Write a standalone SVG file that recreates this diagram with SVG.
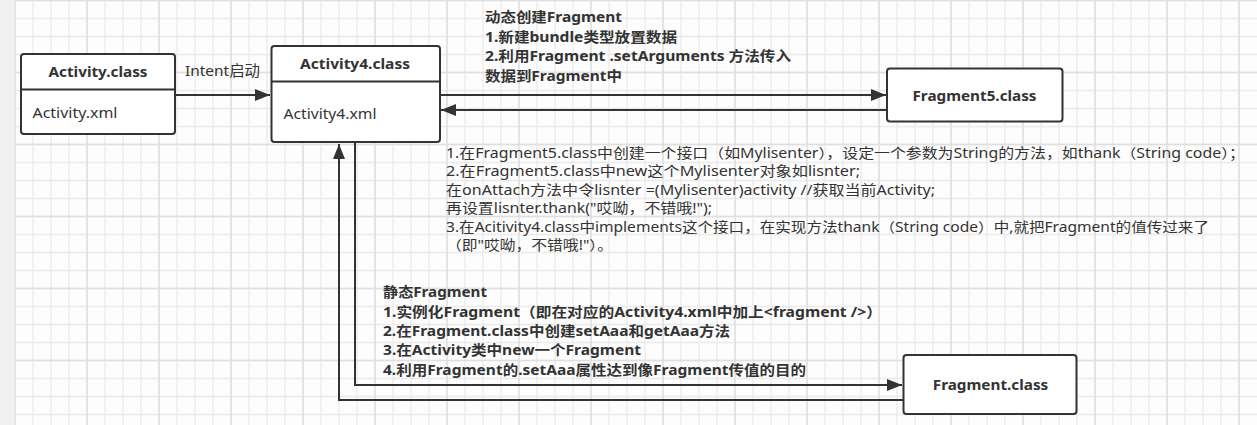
<svg xmlns="http://www.w3.org/2000/svg" width="1257" height="425" viewBox="0 0 1257 425">
<defs>
<marker id="arr" markerWidth="16" markerHeight="14" refX="15" refY="6.5" orient="auto" markerUnits="userSpaceOnUse">
<path d="M0,0.5 L15,6.5 L0,12.5 z" fill="#333"/>
</marker>
<style>
.box{fill:#fff;stroke:#333;stroke-width:2}
.div{stroke:#333;stroke-width:2}
.t{font-family:"Noto Sans","Noto Sans CJK SC",sans-serif;fill:#333}
.title{font-size:14.5px;font-weight:bold;text-anchor:middle}
.sub{font-size:14.5px}
.b{font-size:14px;font-weight:bold}
.r{font-size:13.5px}
.c{fill:none;stroke:#333;stroke-width:2;marker-end:url(#arr)}
.gmin{fill:none;stroke:#ebebeb;stroke-width:1.3}
.gmaj{fill:none;stroke:#dfdfdf;stroke-width:1.3}
</style>
</defs>
<rect x="0" y="0" width="1257" height="425" fill="#f0f0f0"/>
<rect x="15" y="0" width="1242" height="425" fill="#fdfdfd"/>
<g id="grid">
<path class="gmin" d="M15,0v425m18,-425v425m18,-425v425m18,-425v425m18,-425v425m18,-425v425m18,-425v425m18,-425v425m18,-425v425m18,-425v425m18,-425v425m18,-425v425m18,-425v425m18,-425v425m18,-425v425m18,-425v425m18,-425v425m18,-425v425m18,-425v425m18,-425v425m18,-425v425m18,-425v425m18,-425v425m18,-425v425m18,-425v425m18,-425v425m18,-425v425m18,-425v425m18,-425v425m18,-425v425m18,-425v425m18,-425v425m18,-425v425m18,-425v425m18,-425v425m18,-425v425m18,-425v425m18,-425v425m18,-425v425m18,-425v425m18,-425v425m18,-425v425m18,-425v425m18,-425v425m18,-425v425m18,-425v425m18,-425v425m18,-425v425m18,-425v425m18,-425v425m18,-425v425m18,-425v425m18,-425v425m18,-425v425m18,-425v425m18,-425v425m18,-425v425m18,-425v425m18,-425v425m18,-425v425m18,-425v425m18,-425v425m18,-425v425m18,-425v425m18,-425v425m18,-425v425m18,-425v425m18,-425v425m18,-425v425"/>
<path class="gmin" d="M15,0.5h1242m-1242,18h1242m-1242,18h1242m-1242,18h1242m-1242,18h1242m-1242,18h1242m-1242,18h1242m-1242,18h1242m-1242,18h1242m-1242,18h1242m-1242,18h1242m-1242,18h1242m-1242,18h1242m-1242,18h1242m-1242,18h1242m-1242,18h1242m-1242,18h1242m-1242,18h1242m-1242,18h1242m-1242,18h1242m-1242,18h1242m-1242,18h1242m-1242,18h1242m-1242,18h1242"/>
<path class="gmaj" d="M15,0v425m72,-425v425m72,-425v425m72,-425v425m72,-425v425m72,-425v425m72,-425v425m72,-425v425m72,-425v425m72,-425v425m72,-425v425m72,-425v425m72,-425v425m72,-425v425m72,-425v425m72,-425v425m72,-425v425m72,-425v425"/>
<path class="gmaj" d="M15,0.5h1242m-1242,72h1242m-1242,72h1242m-1242,72h1242m-1242,72h1242m-1242,72h1242"/>
</g>

<g id="connectors">
<path class="c" d="M175,95 H270"/>
<path class="c" d="M440,95 H886"/>
<path class="c" d="M887,110 H441"/>
<path class="c" d="M355,143 V385 H902"/>
<path class="c" d="M903,400 H339 V144"/>
</g>

<g id="activity">
<rect class="box" x="21" y="54" width="154" height="80" rx="3"/>
<line class="div" x1="21" y1="89.5" x2="175" y2="89.5"/>
<text class="t title" x="98" y="77" textLength="99" lengthAdjust="spacingAndGlyphs">Activity.class</text>
<text class="t sub" x="32.5" y="118" textLength="85" lengthAdjust="spacingAndGlyphs">Activity.xml</text>
</g>

<g id="activity4">
<rect class="box" x="271.5" y="46" width="168.5" height="96" rx="3"/>
<line class="div" x1="271.5" y1="81.5" x2="440" y2="81.5"/>
<text class="t title" x="355" y="69" textLength="110" lengthAdjust="spacingAndGlyphs">Activity4.class</text>
<text class="t sub" x="283.5" y="119" textLength="93" lengthAdjust="spacingAndGlyphs">Activity4.xml</text>
</g>

<g id="fragment5">
<rect class="box" x="887" y="68.5" width="175.5" height="53" rx="3"/>
<text class="t title" x="974.5" y="100.5" textLength="124" lengthAdjust="spacingAndGlyphs">Fragment5.class</text>
</g>

<g id="fragment">
<rect class="box" x="903.5" y="355" width="173" height="59" rx="3"/>
<text class="t title" x="990.5" y="390" textLength="115.5" lengthAdjust="spacingAndGlyphs">Fragment.class</text>
</g>

<g id="labels">
<text class="t sub" x="185" y="76" textLength="75" lengthAdjust="spacingAndGlyphs">Intent启动</text>

<text class="t b" x="485" y="22" textLength="137" lengthAdjust="spacingAndGlyphs">动态创建Fragment</text>
<text class="t b" x="485" y="41.5" textLength="192" lengthAdjust="spacingAndGlyphs">1.新建bundle类型放置数据</text>
<text class="t b" x="485" y="61" textLength="306" lengthAdjust="spacingAndGlyphs">2.利用Fragment .setArguments 方法传入</text>
<text class="t b" x="485" y="80.5" textLength="137" lengthAdjust="spacingAndGlyphs">数据到Fragment中</text>

<text class="t r" x="446" y="157.5" textLength="799" lengthAdjust="spacingAndGlyphs">1.在Fragment5.class中创建一个接口（如Mylisenter），设定一个参数为String的方法，如thank（String code）；</text>
<text class="t r" x="446" y="176" textLength="414" lengthAdjust="spacingAndGlyphs">2.在Fragment5.class中new这个Mylisenter对象如lisnter;</text>
<text class="t r" x="446" y="194.5" textLength="489" lengthAdjust="spacingAndGlyphs">在onAttach方法中令lisnter =(Mylisenter)activity //获取当前Activity;</text>
<text class="t r" x="446" y="213" textLength="266" lengthAdjust="spacingAndGlyphs">再设置lisnter.thank("哎呦，不错哦!");</text>
<text class="t r" x="446" y="231.5" textLength="763" lengthAdjust="spacingAndGlyphs">3.在Acitivity4.class中implements这个接口，在实现方法thank（String code）中,就把Fragment的值传过来了</text>
<text class="t r" x="446" y="250" textLength="167" lengthAdjust="spacingAndGlyphs">（即"哎呦，不错哦!"）。</text>

<text class="t b" x="383" y="297" textLength="104" lengthAdjust="spacingAndGlyphs">静态Fragment</text>
<text class="t b" x="383" y="316.5" textLength="499" lengthAdjust="spacingAndGlyphs">1.实例化Fragment（即在对应的Activity4.xml中加上&lt;fragment /&gt;）</text>
<text class="t b" x="383" y="336" textLength="347" lengthAdjust="spacingAndGlyphs">2.在Fragment.class中创建setAaa和getAaa方法</text>
<text class="t b" x="383" y="355" textLength="258" lengthAdjust="spacingAndGlyphs">3.在Activity类中new一个Fragment</text>
<text class="t b" x="383" y="374.5" textLength="423" lengthAdjust="spacingAndGlyphs">4.利用Fragment的.setAaa属性达到像Fragment传值的目的</text>
</g>
</svg>
